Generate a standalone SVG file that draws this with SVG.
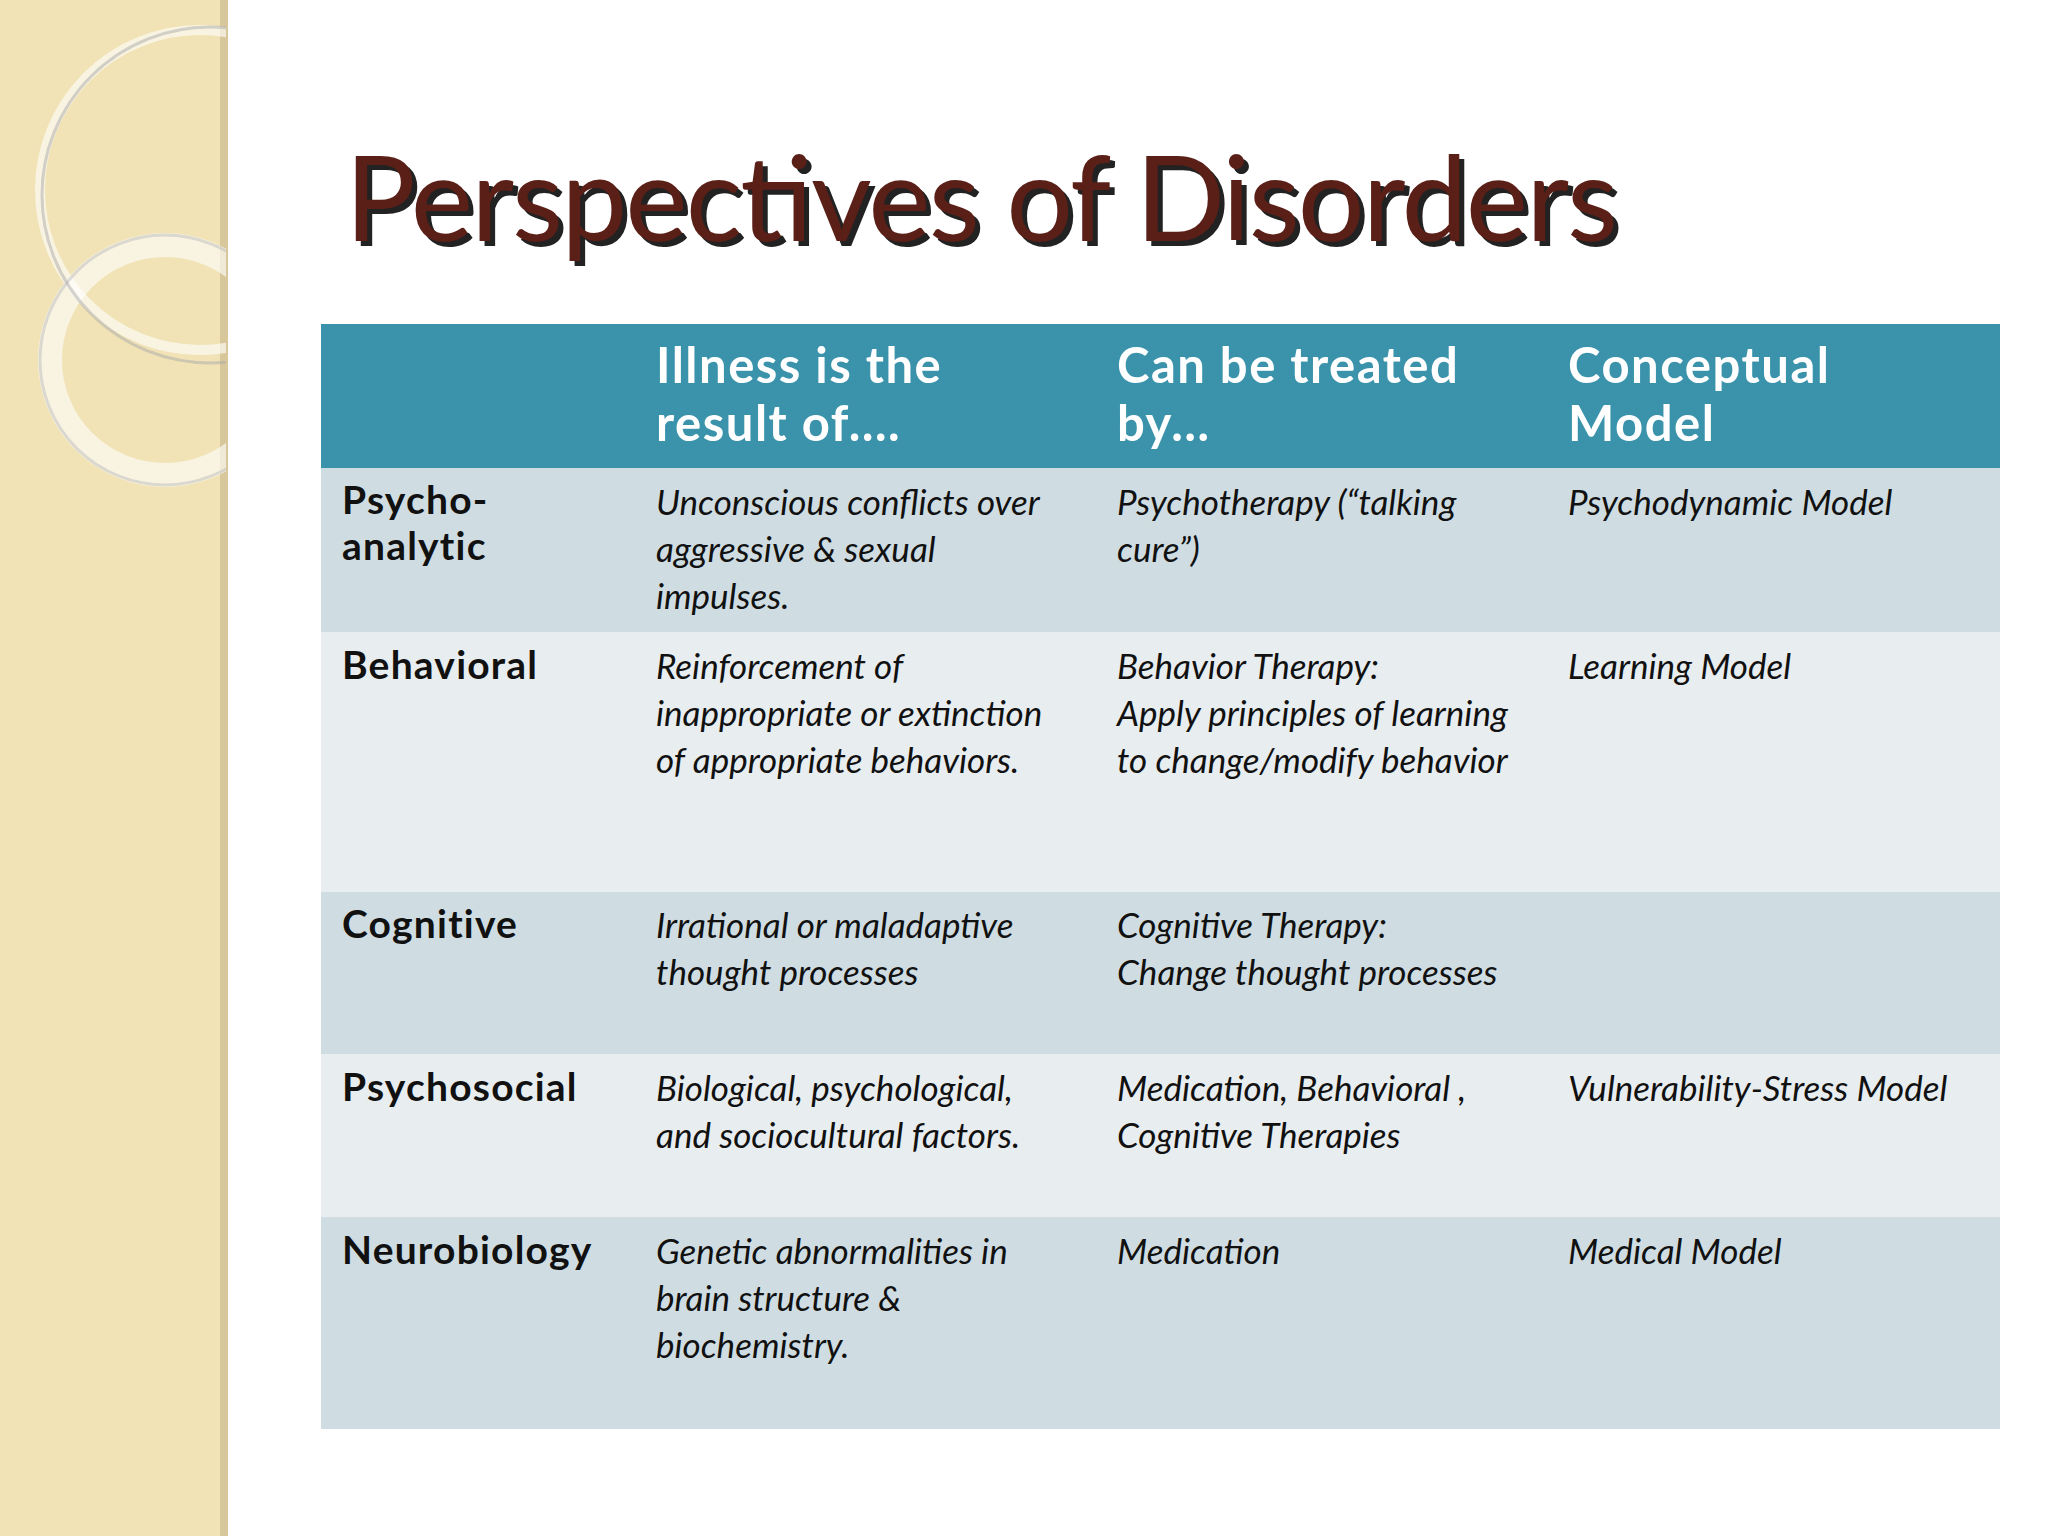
<svg xmlns="http://www.w3.org/2000/svg" width="2048" height="1536" viewBox="0 0 2048 1536">
<style>
.h{font-family:Lato,"Open Sans",sans-serif;font-weight:bold;font-size:49px;letter-spacing:1.5px;fill:#fff}
.r{font-family:Lato,"Open Sans",sans-serif;font-weight:bold;font-size:39px;letter-spacing:1.2px;fill:#111}
.c{font-family:Lato,"Open Sans",sans-serif;font-style:italic;font-size:35px;fill:#111}
</style>
<defs><clipPath id="cp"><rect x="0" y="0" width="226" height="1536"/></clipPath></defs>
<rect width="2048" height="1536" fill="#fff"/>
<g id="strip">
<rect x="0" y="0" width="226" height="1536" fill="#F1E3B6"/>
<rect x="220" y="0" width="8" height="1536" fill="#D8C79A"/>
<g clip-path="url(#cp)">
<circle cx="200" cy="190" r="160" fill="none" stroke="#fff" stroke-opacity="0.6" stroke-width="10"/>
<circle cx="165" cy="360" r="115" fill="none" stroke="#fff" stroke-opacity="0.6" stroke-width="24"/>
<circle cx="165" cy="360" r="125" fill="none" stroke="#bbb" stroke-opacity="0.5" stroke-width="3"/>
<circle cx="210" cy="195" r="168" fill="none" stroke="#aaa" stroke-opacity="0.5" stroke-width="3"/>
</g>
</g>
<g id="title" font-family="Lato,'Open Sans',sans-serif" font-size="118">
<text x="350" y="246" fill="#222" textLength="1273">Perspectives of Disorders</text>
<text x="345" y="241" fill="#5A1F17" textLength="1273">Perspectives of Disorders</text>
</g>
<g id="table">
<rect x="321" y="324" width="1679" height="144" fill="#3A93AB"/>
<rect x="321" y="468" width="1679" height="164" fill="#CFDDE3"/>
<rect x="321" y="632" width="1679" height="260" fill="#E8EDF0"/>
<rect x="321" y="892" width="1679" height="162" fill="#CFDDE3"/>
<rect x="321" y="1054" width="1679" height="163" fill="#E8EDF0"/>
<rect x="321" y="1217" width="1679" height="212" fill="#CFDDE3"/>
<text class="h" x="656" y="383">Illness is the</text><text class="h" x="656" y="441">result of….</text>
<text class="h" x="1117" y="383">Can be treated</text><text class="h" x="1117" y="441">by…</text>
<text class="h" x="1568" y="383">Conceptual</text><text class="h" x="1568" y="441">Model</text>
<text class="r" x="342" y="514">Psycho-</text><text class="r" x="342" y="560">analytic</text>
<text class="c" x="656" y="515">Unconscious conflicts over</text><text class="c" x="656" y="562">aggressive &amp; sexual</text><text class="c" x="656" y="609">impulses.</text>
<text class="c" x="1117" y="515">Psychotherapy (“talking</text><text class="c" x="1117" y="562">cure”)</text>
<text class="c" x="1568" y="515">Psychodynamic Model</text>
<text class="r" x="342" y="679">Behavioral</text>
<text class="c" x="656" y="679">Reinforcement of</text><text class="c" x="656" y="726">inappropriate or extinction</text><text class="c" x="656" y="773">of appropriate  behaviors.</text>
<text class="c" x="1117" y="679">Behavior Therapy:</text><text class="c" x="1117" y="726">Apply principles of learning</text><text class="c" x="1117" y="773">to change/modify behavior</text>
<text class="c" x="1568" y="679">Learning Model</text>
<text class="r" x="342" y="938">Cognitive</text>
<text class="c" x="656" y="938">Irrational or maladaptive</text><text class="c" x="656" y="985">thought processes</text>
<text class="c" x="1117" y="938">Cognitive Therapy:</text><text class="c" x="1117" y="985">Change thought processes</text>
<text class="r" x="342" y="1101">Psychosocial</text>
<text class="c" x="656" y="1101">Biological, psychological,</text><text class="c" x="656" y="1148">and sociocultural factors.</text>
<text class="c" x="1117" y="1101">Medication, Behavioral ,</text><text class="c" x="1117" y="1148">Cognitive Therapies</text>
<text class="c" x="1568" y="1101">Vulnerability-Stress Model</text>
<text class="r" x="342" y="1264">Neurobiology</text>
<text class="c" x="656" y="1264">Genetic abnormalities in</text><text class="c" x="656" y="1311">brain structure &amp;</text><text class="c" x="656" y="1358">biochemistry.</text>
<text class="c" x="1117" y="1264">Medication</text>
<text class="c" x="1568" y="1264">Medical Model</text>
</g>
</svg>
